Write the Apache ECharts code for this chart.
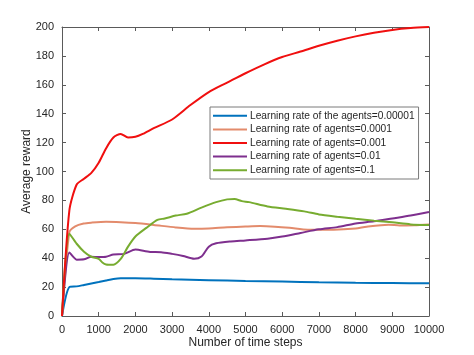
<!DOCTYPE html>
<html>
<head>
<meta charset="utf-8">
<script src="https://cdn.jsdelivr.net/npm/echarts@6/dist/echarts.min.js"></script>
<style>html,body{margin:0;padding:0;background:#fff}#c{width:474px;height:355px}</style>
</head>
<body>
<div id="c"></div>
<script>
var seriesNames = [
  'Learning rate of the agents=0.00001',
  'Learning rate of agents=0.0001',
  'Learning rate of agents=0.001',
  'Learning rate of agents=0.01',
  'Learning rate of agents=0.1'
];
var xTickValues = [0, 10000, 1000];
var yTickValues = [0, 200, 20];

var lr00001 = [[0,0],[200,20],[400,20.5],[600,21.5],[800,22.5],[1000,23.5],[1200,24.6],[1400,25.6],[1600,26.1],[2000,26.1],[2500,25.8],[3000,25.4],[4000,24.8],[5000,24.2],[6000,23.8],[7000,23.3],[8000,23],[9000,22.8],[10000,22.6]];
var lr0001 = [[0,0],[200,58],[360,62],[590,64],[800,64.6],[1200,65.2],[1600,64.9],[2000,64.3],[2500,63],[3100,61.3],[3600,60.4],[4000,60.6],[4500,61.4],[5000,61.9],[5400,62.2],[5800,61.8],[6200,61],[6700,59.7],[7400,59.7],[8000,60.5],[8300,61.8],[8900,63.2],[9200,62.6],[9600,62.8],[10000,63.3]];
var lr001 = [[0,0],[200,73],[400,91],[600,95],[800,99],[1000,106],[1200,116],[1400,123.5],[1600,126],[1800,123.5],[2000,124],[2200,126],[2500,130],[3000,136],[3500,146],[4000,155],[4500,161.5],[5000,168],[5500,174],[6000,179.2],[6500,183],[7000,187],[7500,190.5],[8000,193.5],[8500,196],[9000,198],[9500,199.3],[10000,200]];
var lr01 = [[0,0],[200,44],[400,39],[600,39.2],[800,41],[1000,40.8],[1200,41],[1400,42.5],[1700,43],[2000,46],[2400,44.3],[2700,44.2],[3000,43],[3300,41.5],[3600,39.6],[3800,41.2],[4000,48],[4200,50.3],[4600,51.6],[5000,52.3],[5600,53.5],[6000,55],[6500,57.5],[7000,60],[7500,61.5],[8000,64],[8500,65.5],[9000,67.5],[9500,69.5],[10000,72]];
var lr1 = [[0,0],[200,57],[400,50],[600,44.5],[800,41],[1000,39.5],[1100,37],[1200,35.7],[1400,35.5],[1600,39.5],[1800,48],[2000,55],[2300,61],[2600,66.5],[2800,67.5],[3100,69.5],[3400,70.8],[3800,75],[4200,78.8],[4500,80.7],[4700,81],[4900,79.5],[5100,78.8],[5600,75.8],[6100,74.2],[6600,72.4],[7000,70.3],[7500,68.7],[8000,67.3],[8500,66],[9000,64.8],[9500,63.4],[10000,63]];

var colors = ['#0072BD', '#E38B6C', '#F00F0F', '#7E2F8E', '#77AC30'];
var dataList = [lr00001, lr0001, lr001, lr01, lr1];

var chart = echarts.init(document.getElementById('c'), null, {renderer: 'canvas'});
var axisCol = '#262626';
var font = 'Liberation Sans, Arial, sans-serif';
function baseAxis(extra) {
  var a = {
    axisLine: {show: true, onZero: false, lineStyle: {color: '#5a5a5a', width: 1}},
    axisTick: {show: true, inside: true, length: 4, lineStyle: {color: '#5a5a5a'}},
    splitLine: {show: false},
    axisLabel: {color: axisCol, fontSize: 11, fontFamily: font, formatter: function (v) { return String(v); }},
    nameMoveOverlap: false
  };
  for (var k in extra) a[k] = extra[k];
  return a;
}
var option = {
  backgroundColor: '#fff',
  animation: false,
  color: colors,
  grid: {left: 62, right: 45, top: 27, bottom: 39, containLabel: false},
  xAxis: [
    baseAxis({type: 'value', min: xTickValues[0], max: xTickValues[1], interval: xTickValues[2], position: 'bottom',
      name: 'Number of time steps', nameLocation: 'middle', nameGap: 21,
      nameTextStyle: {color: axisCol, fontSize: 12, fontFamily: font, verticalAlign: 'top'}}),
    baseAxis({type: 'value', min: xTickValues[0], max: xTickValues[1], interval: xTickValues[2], position: 'top', axisLabel: {show: false}})
  ],
  yAxis: [
    baseAxis({type: 'value', min: yTickValues[0], max: yTickValues[1], interval: yTickValues[2], position: 'left',
      name: 'Average reward', nameLocation: 'middle', nameGap: 29,
      nameTextStyle: {color: axisCol, fontSize: 12, fontFamily: font}}),
    baseAxis({type: 'value', min: yTickValues[0], max: yTickValues[1], interval: yTickValues[2], position: 'right', axisLabel: {show: false}})
  ],
  legend: {
    orient: 'vertical',
    left: 210, top: 107,
    padding: [2, 4, 2, 3],
    itemGap: 0,
    itemWidth: 34, itemHeight: 2,
    icon: 'rect',
    backgroundColor: '#fff',
    borderColor: '#7a7a7a', borderWidth: 1, borderRadius: 0,
    textStyle: {color: axisCol, fontSize: 10.2, fontFamily: font, lineHeight: 13.6, padding: [0,0,0,-2]},
    data: seriesNames
  },
  series: dataList.map(function (d, i) {
    return {
      name: seriesNames[i], type: 'line', data: d, showSymbol: false, symbol: 'none',
      smooth: 0.25, lineStyle: {width: 2, color: colors[i]}, itemStyle: {color: colors[i]},
      z: i === 2 ? 5 : 3
    };
  })
};
chart.setOption(option);
</script>
</body>
</html>
